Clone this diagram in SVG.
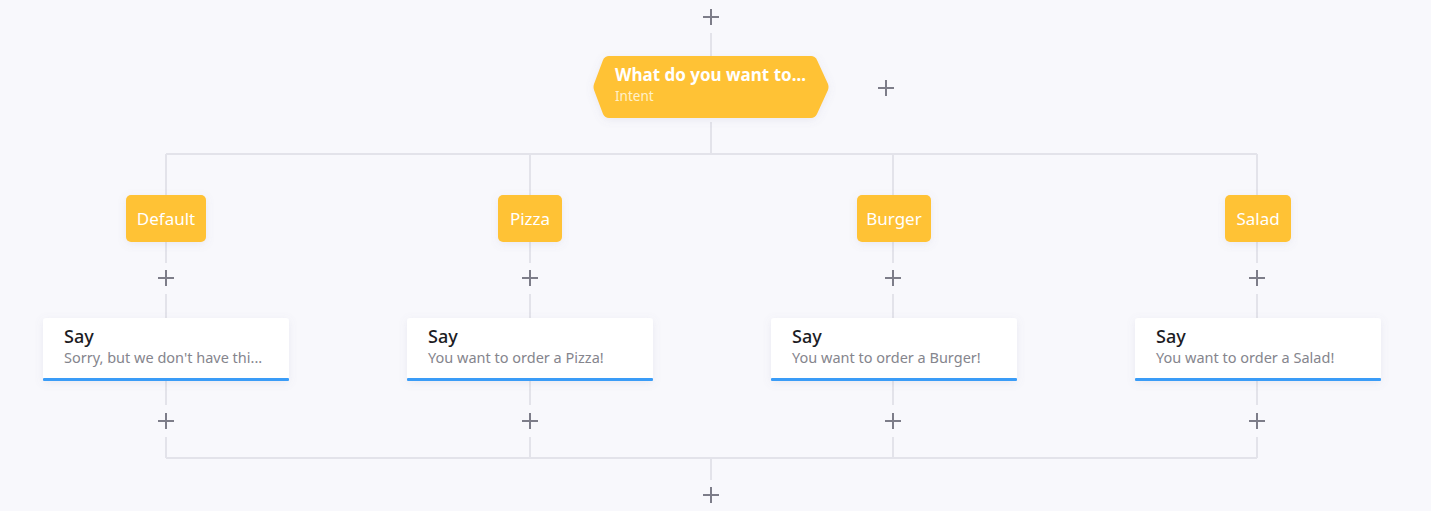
<svg xmlns="http://www.w3.org/2000/svg" width="1431" height="511" viewBox="0 0 1431 511">
<style>
.ln{stroke:#e3e3ea;stroke-width:2;fill:none}
.pl{stroke:#7d7d89;stroke-width:2;fill:none}
.yb{fill:#ffc235}
.yt{font-family:"Noto Sans","Open Sans",sans-serif;font-size:17px;fill:#ffffff;text-anchor:middle}
.card{fill:#ffffff}
.bar{fill:#3a9cf7}
.say{font-family:"Noto Sans","Open Sans",sans-serif;font-size:18px;font-weight:500;fill:#1c1c24}
.sub{font-family:"Noto Sans","Open Sans",sans-serif;font-size:14.5px;fill:#85858d}
</style>
<defs>
<filter id="sh" x="-10%" y="-20%" width="120%" height="150%">
<feDropShadow dx="0" dy="2" stdDeviation="4" flood-color="#7a7aa0" flood-opacity="0.12"/>
</filter>
</defs>
<rect width="1431" height="511" fill="#f8f8fc"/>
<g id="connectors">
<path class="ln" d="M711 33V56M711 122V154M166 154H1257M166 154V195M530 154V195M893 154V195M1257 154V195"/>
<path class="ln" d="M166 242V263M530 242V263M893 242V263M1257 242V263"/>
<path class="ln" d="M166 294V318M530 294V318M893 294V318M1257 294V318"/>
<path class="ln" d="M166 381V405M530 381V405M893 381V405M1257 381V405"/>
<path class="ln" d="M166 437V458M530 437V458M893 437V458M1257 437V458M166 458H1257M711 458V480"/>
</g>
<g id="plus-buttons">
<path class="pl" d="M703 17H719M711 9V25"/>
<path class="pl" d="M878 88H894M886 80V96"/>
<path class="pl" d="M158 278H174M166 270V286M522 278H538M530 270V286M885 278H901M893 270V286M1249 278H1265M1257 270V286"/>
<path class="pl" d="M158 421H174M166 413V429M522 421H538M530 413V429M885 421H901M893 413V429M1249 421H1265M1257 413V429"/>
<path class="pl" d="M703 495H719M711 487V503"/>
</g>
<g id="intent">
<path class="yb" filter="url(#sh)" d="M609 56H811Q815 56 817 60L828 84Q829 87 828 90L817 114Q815 118 811 118H609Q605 118 603 114L594 90Q593 87 594 84L603 60Q605 56 609 56Z"/>
<text x="615" y="81" font-family="'Noto Sans','Open Sans',sans-serif" font-size="17" font-weight="bold" fill="#ffffff">What do you want to...</text>
<text x="615" y="101" font-family="'Noto Sans','Open Sans',sans-serif" font-size="13.5" fill="#fff1cc">Intent</text>
</g>
<g id="default">
<rect class="yb" filter="url(#sh)" x="126" y="195" width="80" height="47" rx="5"/>
<text class="yt" x="166" y="225">Default</text>
</g>
<g id="pizza">
<rect class="yb" filter="url(#sh)" x="498" y="195" width="64" height="47" rx="5"/>
<text class="yt" x="530" y="225">Pizza</text>
</g>
<g id="burger">
<rect class="yb" filter="url(#sh)" x="857" y="195" width="74" height="47" rx="5"/>
<text class="yt" x="894" y="225">Burger</text>
</g>
<g id="salad">
<rect class="yb" filter="url(#sh)" x="1225" y="195" width="66" height="47" rx="5"/>
<text class="yt" x="1258" y="225">Salad</text>
</g>
<g id="say-default">
<rect class="card" filter="url(#sh)" x="43" y="318" width="246" height="63" rx="3"/>
<rect class="bar" x="43" y="378" width="246" height="3" rx="1"/>
<text class="say" x="64" y="343">Say</text>
<text class="sub" x="64" y="363">Sorry, but we don't have thi...</text>
</g>
<g id="say-pizza">
<rect class="card" filter="url(#sh)" x="407" y="318" width="246" height="63" rx="3"/>
<rect class="bar" x="407" y="378" width="246" height="3" rx="1"/>
<text class="say" x="428" y="343">Say</text>
<text class="sub" x="428" y="363">You want to order a Pizza!</text>
</g>
<g id="say-burger">
<rect class="card" filter="url(#sh)" x="771" y="318" width="246" height="63" rx="3"/>
<rect class="bar" x="771" y="378" width="246" height="3" rx="1"/>
<text class="say" x="792" y="343">Say</text>
<text class="sub" x="792" y="363">You want to order a Burger!</text>
</g>
<g id="say-salad">
<rect class="card" filter="url(#sh)" x="1135" y="318" width="246" height="63" rx="3"/>
<rect class="bar" x="1135" y="378" width="246" height="3" rx="1"/>
<text class="say" x="1156" y="343">Say</text>
<text class="sub" x="1156" y="363">You want to order a Salad!</text>
</g>
</svg>
